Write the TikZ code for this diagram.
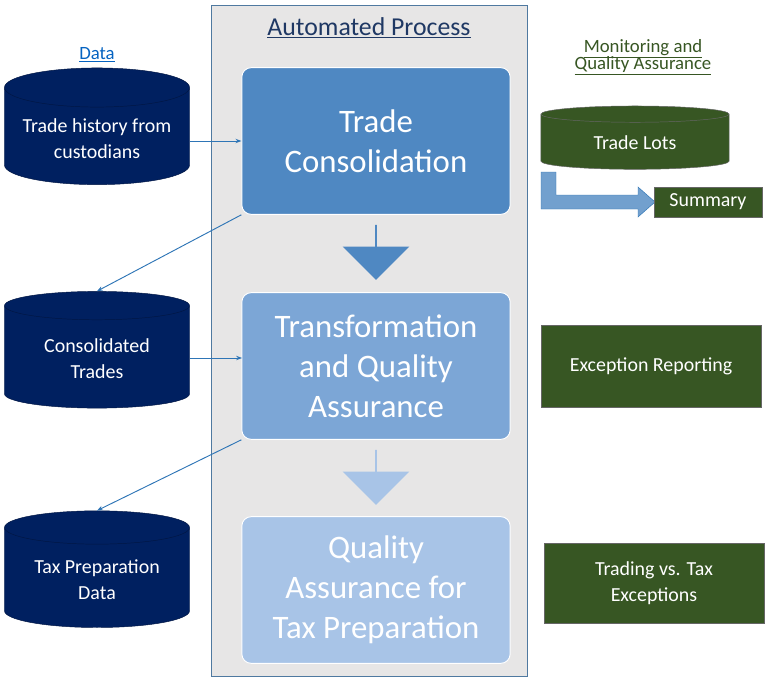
\documentclass[tikz,border=0pt]{standalone}
\usepackage{fontspec}
\setmainfont{Carlito}
\usetikzlibrary{shapes.geometric,shapes.arrows,arrows.meta,positioning}
\definecolor{navy}{HTML}{002060}
\definecolor{titleblue}{HTML}{1F3864}
\definecolor{linkblue}{HTML}{0563C1}
\definecolor{arrowblue}{HTML}{2E75B6}
\definecolor{mongreen}{HTML}{375623}
\definecolor{procA}{HTML}{4F88C2}
\definecolor{procB}{HTML}{7CA6D6}
\definecolor{procC}{HTML}{A8C4E7}
\definecolor{panelgrey}{HTML}{E7E6E6}
\tikzset{
  datastore/.style={cylinder,shape border rotate=90,aspect=0.25,draw=navy!70!black,fill=navy,
    text=white,minimum width=5.55cm,minimum height=3.5cm,align=center,font=\fontsize{17}{22}\selectfont},
  process/.style={rectangle,rounded corners=8pt,draw=white,thick,text=white,minimum width=8.05cm,
    minimum height=4.4cm,align=center,font=\fontsize{28}{34}\selectfont},
  monitor/.style={rectangle,draw=black!60,fill=mongreen,text=white,align=center,
    font=\fontsize{17}{22}\selectfont},
  flow/.style={-{Stealth[length=5pt]},arrowblue,thick},
  downarrow/.style={single arrow,shape border rotate=270,minimum width=2cm,minimum height=1.65cm,
    single arrow head extend=0.3cm,inner sep=0pt}
}
\begin{document}
\begin{tikzpicture}[x=0.03cm,y=-0.03cm]
\useasboundingbox (0,0) rectangle (766,678);
% panel
\draw[fill=panelgrey,draw=arrowblue!60!gray] (211,5) rectangle (527,676);
\node (title) at (369,28) {\fontsize{22}{26}\selectfont\color{titleblue}\underline{Automated Process}};
\node (datalbl) at (97,55) {\fontsize{16}{20}\selectfont\color{linkblue}\underline{Data}};
\node[align=center] (monlbl) at (643,57) {\fontsize{16}{26}\selectfont\color{mongreen}\underline{Monitoring and}\\[-2pt]\fontsize{16}{26}\selectfont\color{mongreen}\underline{Quality Assurance}};
% data stores
\node[datastore] (hist) at (97,139) {Trade history from\\custodians};
\node[datastore] (cons) at (97,359) {Consolidated\\Trades};
\node[datastore] (tax) at (97,580) {Tax Preparation\\Data};
% process boxes
\node[process,fill=procA] (p1) at (376,141) {Trade\\Consolidation};
\node[process,fill=procB] (p2) at (376,366) {Transformation\\and Quality\\Assurance};
\node[process,fill=procC] (p3) at (376,590) {Quality\\Assurance for\\Tax Preparation};
\node[downarrow,fill=procA] (d1) at (376,252) {};
\node[downarrow,fill=procC] (d2) at (376,477) {};
% connectors
\draw[flow] (hist.east |- p1.west) -- (p1.west);
\draw[flow] (p1.south west) -- (cons.north);
\draw[flow] (cons.east |- 0,358) -- (242,358);
\draw[flow] (p2.south west) -- (tax.north);
% monitoring
\node[cylinder,shape border rotate=90,aspect=0.18,draw=black!60,fill=mongreen,text=white,
  minimum width=5.65cm,minimum height=1.9cm,font=\fontsize{17}{22}\selectfont] (lots) at (635,143) {Trade Lots};
\fill[procA!80!white,draw=arrowblue] (541,172) -- (556,172) -- (556,195) -- (638,195) -- (638,187)
  -- (655,202) -- (638,217) -- (638,209) -- (541,209) -- cycle;
\node[monitor,minimum width=3.25cm,minimum height=0.9cm] (summ) at (708,202) {Summary};
\node[monitor,minimum width=6.6cm,minimum height=2.45cm] (exc) at (651,366) {Exception Reporting};
\node[monitor,minimum width=6.6cm,minimum height=2.4cm] (tvt) at (654,583) {Trading vs. Tax\\Exceptions};
\end{tikzpicture}
\end{document}
